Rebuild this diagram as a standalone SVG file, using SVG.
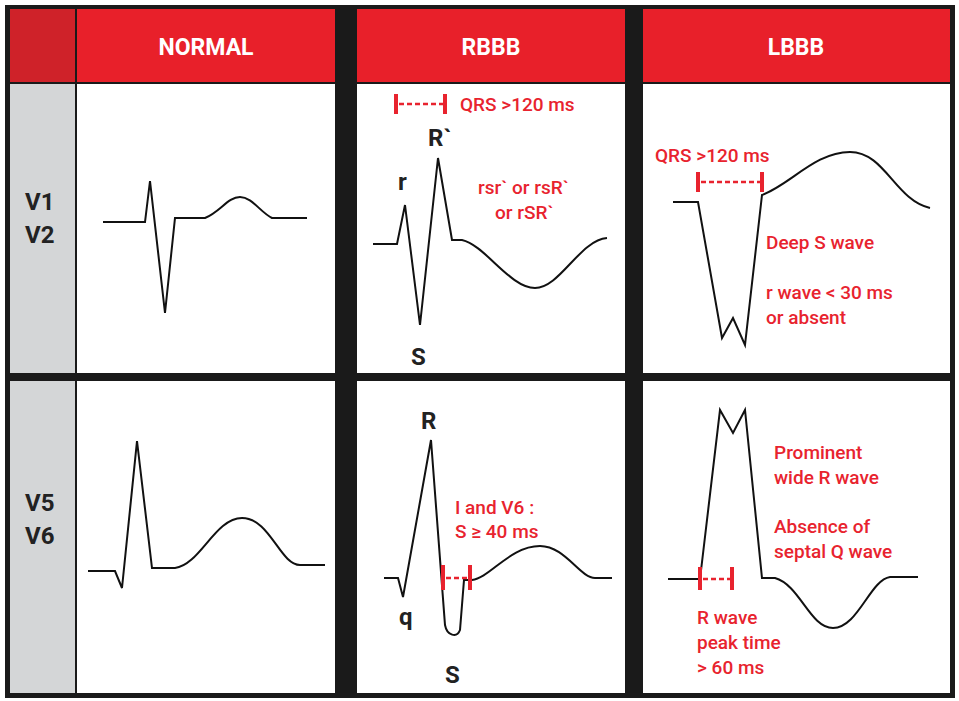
<svg xmlns="http://www.w3.org/2000/svg" width="959" height="701" viewBox="0 0 959 701">
<style>
.h{font-family:Roboto,"Liberation Sans",sans-serif;font-weight:bold;fill:#fff;font-size:23px;text-anchor:middle}
.l{font-family:Roboto,"Liberation Sans",sans-serif;font-weight:bold;fill:#222;font-size:24px}
.r{font-family:Roboto,"Liberation Sans",sans-serif;font-weight:500;fill:#e8232e;font-size:19px}
.w{fill:none;stroke:#111;stroke-width:2;stroke-linejoin:miter}
.br{stroke:#e8232e;stroke-width:4}
.bd{stroke:#e8232e;stroke-width:2.5;stroke-dasharray:5 3}
</style>
<rect x="0" y="0" width="959" height="701" fill="#fff"/>
<rect x="5" y="5" width="950" height="693" fill="#1a1a1a"/>
<g id="headers">
<rect x="10" y="9" width="65" height="73" fill="#cf2229"/>
<rect x="77" y="9" width="258" height="73" fill="#e8202a"/>
<rect x="357" y="9" width="268" height="73" fill="#e8202a"/>
<rect x="643" y="9" width="307" height="73" fill="#e8202a"/>
<text class="h" x="206" y="55">NORMAL</text>
<text class="h" x="491" y="55">RBBB</text>
<text class="h" x="796" y="55">LBBB</text>
</g>
<g id="rowlabels">
<rect x="10" y="84" width="65" height="289" fill="#d4d6d7"/>
<rect x="10" y="381" width="65" height="312" fill="#d4d6d7"/>
<text class="l" x="25" y="210">V1</text><text class="l" x="25" y="243">V2</text>
<text class="l" x="25" y="511">V5</text><text class="l" x="25" y="544">V6</text>
</g>
<g id="cells" fill="#fff">
<rect x="77" y="84" width="258" height="289"/>
<rect x="357" y="84" width="268" height="289"/>
<rect x="643" y="84" width="307" height="289"/>
<rect x="77" y="381" width="258" height="312"/>
<rect x="357" y="381" width="268" height="312"/>
<rect x="643" y="381" width="307" height="312"/>
</g>
<g id="normal-v1"><path class="w" d="M103 222H145L150 181L165 313L175 218H205C220 212 228 197 240 197C252 197 260 212 272 218H307"/></g>
<g id="rbbb-v1">
<path class="w" d="M373 244H397L405 205L420 325L438 158L452 240H462C485 245 510 288 535 288C560 288 580 240 607 238"/>
<text class="l" x="398" y="190">r</text><text class="l" x="428" y="146">R`</text><text class="l" x="411" y="365">S</text>
<line class="br" x1="396" y1="94" x2="396" y2="114"/><line class="br" x1="445" y1="94" x2="445" y2="114"/>
<line class="bd" x1="399" y1="104" x2="443" y2="104"/>
<text class="r" x="460" y="111">QRS &gt;120 ms</text>
<text class="r" x="478" y="194">rsr` or rsR`</text><text class="r" x="495" y="219">or rSR`</text>
</g>
<g id="lbbb-v1">
<path class="w" d="M673 202H698L722 338L733 318L745 345L762 195C790 185 815 152 850 152C885 152 895 200 930 208"/>
<line class="br" x1="698" y1="172" x2="698" y2="192"/><line class="br" x1="762" y1="172" x2="762" y2="192"/>
<line class="bd" x1="701" y1="182" x2="760" y2="182"/>
<text class="r" x="655" y="162">QRS &gt;120 ms</text>
<text class="r" x="766" y="249">Deep S wave</text>
<text class="r" x="766" y="299">r wave &lt; 30 ms</text>
<text class="r" x="766" y="324">or absent</text>
</g>
<g id="normal-v6"><path class="w" d="M88 571H115L122 588L137 441L152 568H175C200 565 215 518 242 518C270 518 280 565 300 565H325"/></g>
<g id="rbbb-v6">
<path class="w" d="M384 578H398L403 597L431 440L445 625C447 636 457 638 460 630L464 580H472C490 578 510 546 540 546C565 546 580 578 595 578H612"/>
<text class="l" x="421" y="429">R</text><text class="l" x="399" y="625">q</text><text class="l" x="445" y="683">S</text>
<line class="br" x1="443" y1="565" x2="443" y2="590"/><line class="br" x1="470" y1="565" x2="470" y2="590"/>
<line class="bd" x1="446" y1="578" x2="468" y2="578"/>
<text class="r" x="455" y="514">I and V6 :</text>
<text class="r" x="455" y="538">S ≥ 40 ms</text>
</g>
<g id="lbbb-v6">
<path class="w" d="M668 579H700L720 410L733 433L745 410L762 578H775C800 585 810 628 833 628C858 628 870 580 890 577H918"/>
<line class="br" x1="700" y1="567" x2="700" y2="590"/><line class="br" x1="732" y1="567" x2="732" y2="590"/>
<line class="bd" x1="703" y1="579" x2="730" y2="579"/>
<text class="r" x="774" y="459">Prominent</text><text class="r" x="774" y="484">wide R wave</text>
<text class="r" x="774" y="533">Absence of</text><text class="r" x="774" y="558">septal Q wave</text>
<text class="r" x="697" y="624">R wave</text><text class="r" x="697" y="649">peak time</text><text class="r" x="697" y="674">&gt; 60 ms</text>
</g>
</svg>
